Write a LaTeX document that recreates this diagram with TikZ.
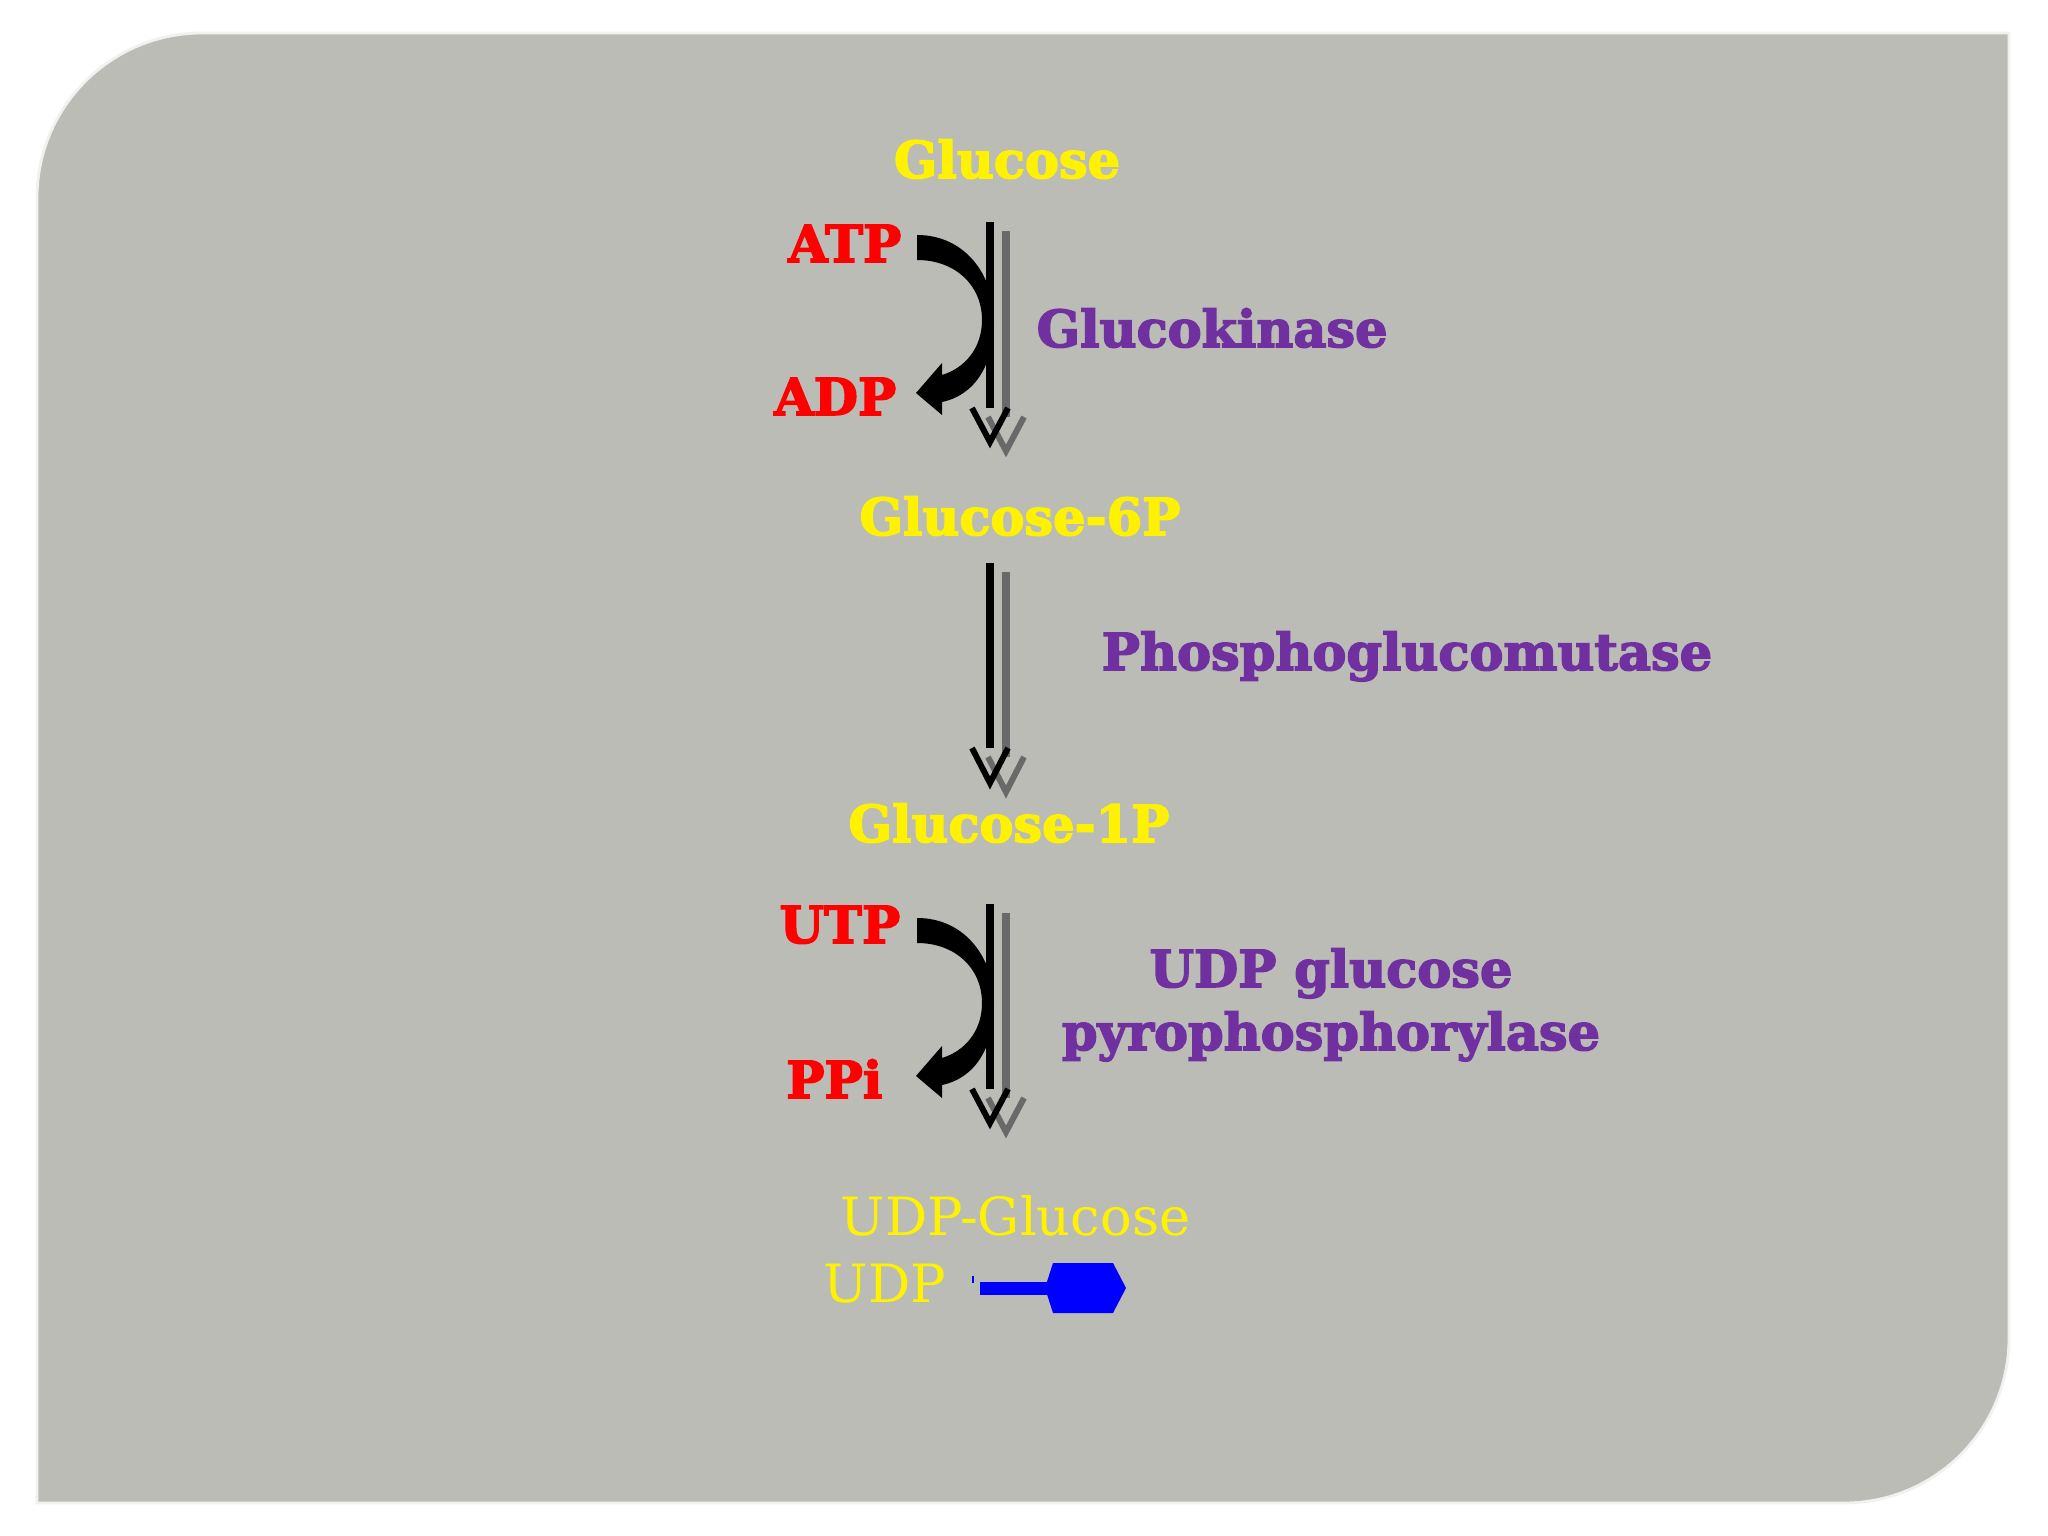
\documentclass[tikz,border=0pt]{standalone}
\usepackage{fontspec}
\setmainfont{DejaVu Serif}[BoldFeatures={FakeBold=3}]
\usetikzlibrary{positioning}
\definecolor{slidegray}{HTML}{BBBCB6}
\definecolor{enzpurple}{HTML}{7030A0}
\definecolor{shadegray}{HTML}{696969}
\begin{document}
\begin{tikzpicture}[
    subst/.style={inner sep=0pt, text=yellow, font=\bfseries\fontsize{14.5}{18}\selectfont},
    cofac/.style={inner sep=0pt, text=red, font=\bfseries\fontsize{14.5}{18}\selectfont},
    enzym/.style={inner sep=0pt, text=enzpurple, font=\bfseries\fontsize{14.5}{18}\selectfont},
    plain/.style={inner sep=0pt, text=yellow, font=\fontsize{15}{18}\selectfont},
    shaft/.style={line width=2.3pt},
    barb/.style={line width=1.7pt},
    shade/.style={shadegray, transform canvas={xshift=1.6mm, yshift=-0.9mm}}
  ]
  \useasboundingbox (0,0) rectangle (20.48,-15.36);
  % Hintergrund
  \fill[white] (0,0) rectangle (20.48,-15.36);
  \filldraw[fill=slidegray, draw=white!80!slidegray, line width=0.8pt]
    (0.37,-15.03) -- (0.37,-1.98) arc[start angle=180, end angle=90, radius=1.65]
    -- (20.09,-0.33) -- (20.09,-13.38) arc[start angle=0, end angle=-90, radius=1.65] -- cycle;
  % Substrate
  \node[subst, anchor=base] (glc) at (10.07,-1.78) {Glucose};
  \node[subst, anchor=base] (g6p) at (10.20,-5.35) {Glucose-6P};
  \node[subst, anchor=base] (g1p) at (10.09,-8.42) {Glucose-1P};
  \node[plain, anchor=base west] (udpg) at (8.40,-12.35) {UDP-Glucose};
  \node[plain, anchor=base west] (udp) at (8.23,-13.02) {UDP};
  % Cofaktoren
  \node[cofac, anchor=base east] (atp) at (9.02,-2.62) {ATP};
  \node[cofac, anchor=base east] (adp) at (8.97,-4.15) {ADP};
  \node[cofac, anchor=base east] (utp) at (9.01,-9.43) {UTP};
  \node[cofac, anchor=base east] (ppi) at (8.83,-10.98) {PPi};
  % Enzyme
  \node[enzym, anchor=base west] (gk) at (10.36,-3.47) {Glucokinase};
  \node[enzym, anchor=base west] (pgm) at (11.01,-6.70) {Phosphoglucomutase};
  \node[enzym, anchor=base] (ugp) at (13.31,-9.87) {UDP glucose};
  \node[enzym, anchor=base] (ugp2) at (13.31,-10.50) {pyrophosphorylase};
  % Pfeile
  \coordinate (r1a) at (9.90,-2.22);  \coordinate (r1b) at (9.90,-4.08);  \coordinate (r1c) at (9.90,-4.42);
  \coordinate (r2a) at (9.90,-5.63);  \coordinate (r2b) at (9.90,-7.48);  \coordinate (r2c) at (9.90,-7.83);
  \coordinate (r3a) at (9.90,-9.04);  \coordinate (r3b) at (9.90,-10.89); \coordinate (r3c) at (9.90,-11.23);
  \foreach \r in {r1, r2, r3} {
    \draw[shade, shaft] (\r a) -- (\r b);
    \draw[shade, barb] ([xshift=-1.8mm]\r b) -- (\r c) -- ([xshift=1.8mm]\r b);
    \draw[shaft] (\r a) -- (\r b);
    \draw[barb] ([xshift=-1.8mm]\r b) -- (\r c) -- ([xshift=1.8mm]\r b);
  }
  % gebogene Pfeile
  \foreach \dy in {0,-6.83} {
    \fill[shift={(0,\dy)}] (9.17,-2.35) .. controls (9.65,-2.35) and (9.94,-2.75) .. (9.94,-3.20)
      .. controls (9.94,-3.65) and (9.75,-3.95) .. (9.42,-4.02) -- (9.42,-4.15) -- (9.16,-3.93)
      -- (9.42,-3.63) -- (9.42,-3.75) .. controls (9.65,-3.68) and (9.82,-3.48) .. (9.82,-3.20)
      .. controls (9.82,-2.85) and (9.55,-2.60) .. (9.17,-2.60) -- cycle;
  }
  % UDP
  \draw[blue, line width=0.3pt] (9.73,-12.76) -- (9.73,-12.83);
  \draw[blue, line width=0.13cm] (9.80,-12.88) -- (10.47,-12.88);
  \fill[blue] (10.45,-12.88) -- (10.53,-12.63) -- (11.13,-12.63) -- (11.26,-12.88)
    -- (11.13,-13.13) -- (10.53,-13.13) -- cycle;
\end{tikzpicture}
\end{document}
